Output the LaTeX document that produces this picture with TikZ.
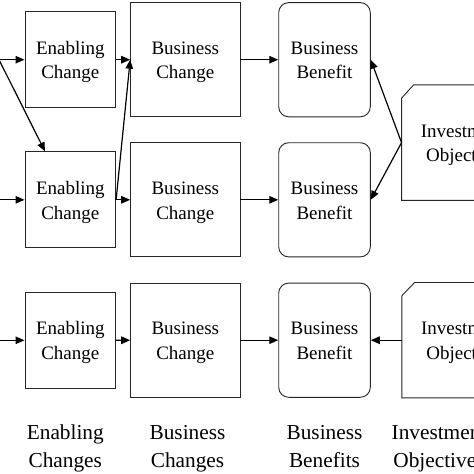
\documentclass[tikz,border=0pt]{standalone}
\usepackage{fontspec}
\setmainfont{Liberation Serif}
\usetikzlibrary{arrows.meta,calc}
\newcommand\twoln[2]{\rule{0pt}{18pt}#1\\#2\rule[-4.2pt]{0pt}{0pt}}
\newcommand\lbltxt[2]{\rule{0pt}{15pt}#1\\#2\rule[-5pt]{0pt}{0pt}}
\begin{document}
\begin{tikzpicture}[x=1pt,y=-1pt,
 box/.style={draw=black!85, line width=0.9pt, inner sep=0pt, align=center, font=\fontsize{19}{24.7}\selectfont, text=black},
 enab/.style={box, minimum width=90.7pt, minimum height=96pt},
 bchg/.style={box, minimum width=109.3pt, minimum height=114.2pt},
 bben/.style={box, rounded corners=10pt, minimum width=91.6pt, minimum height=114.2pt},
 inv/.style={box, draw=none, minimum width=122pt, minimum height=114.5pt},
 chamf/.style={draw=black!85, line width=0.9pt},
 arr/.style={line width=1.2pt, draw=black, -{Triangle[length=9pt,width=7.5pt]}},
 lbl/.style={align=center, inner sep=0pt, text=black, font=\fontsize{21.3}{27.3}\selectfont}]
\useasboundingbox (0,0) rectangle (474,474);
\fill[white] (0,0) rectangle (474,474);
\clip (0,0) rectangle (474,474);

% row 1
\node[enab] (E1) at (70.3,59.7) {\twoln{Enabling}{Change}};
\node[bchg] (B1) at (185.3,59.7) {\twoln{Business}{Change}};
\node[bben] (F1) at (324.5,59.7) {\twoln{Business}{Benefit}};
% row 2
\node[enab] (E2) at (70.3,199.8) {\twoln{Enabling}{Change}};
\node[bchg] (B2) at (185.3,199.8) {\twoln{Business}{Change}};
\node[bben] (F2) at (324.5,199.8) {\twoln{Business}{Benefit}};
\node[inv] (I1) at (463,142.6) {\twoln{Investment}{Objective}};
\draw[chamf] ([xshift=12pt]I1.north west) -- (I1.north east) -- (I1.south east) -- (I1.south west) -- ([yshift=-13.3pt]I1.north west) -- cycle;
% row 3
\node[enab] (E3) at (70.3,340.3) {\twoln{Enabling}{Change}};
\node[bchg] (B3) at (185.3,340.2) {\twoln{Business}{Change}};
\node[bben] (F3) at (324.5,340.2) {\twoln{Business}{Benefit}};
\node[inv] (I3) at (463.3,340.2) {\twoln{Investment}{Objective}};
\draw[chamf] ([xshift=12.7pt]I3.north west) -- (I3.north east) -- (I3.south east) -- (I3.south west) -- ([yshift=-13.3pt]I3.north west) -- cycle;

% free ends
\coordinate (s1) at (-1,59.7);
\coordinate (s2) at (-1,199.8);
\coordinate (s3) at (-1,340.3);

% connectors
\draw[arr] (s1) -- (E1.west);
\draw[arr] (s1) -- ([xshift=-25.3pt]E2.north);
\draw[arr] (s2) -- (E2.west);
\draw[arr] (E1.east) -- (B1.west);
\draw[arr] (E2.east) -- (B1.west);
\draw[arr] (E2.east) -- (B2.west);
\draw[arr] (B1.east) -- (F1.west);
\draw[arr] (B2.east) -- (F2.west);
\draw[arr] (I1.west) -- (F1.east);
\draw[arr] (I1.west) -- (F2.east);
\draw[arr] (s3) -- (E3.west);
\draw[arr] (E3.east) -- (B3.west);
\draw[arr] (B3.east) -- (F3.west);
\draw[arr] (I3.west) -- (F3.east);

% column labels
\node[lbl] (L1) at (65.3,448.4) {\lbltxt{Enabling}{Changes}};
\node[lbl] (L2) at (187.5,448.4) {\lbltxt{Business}{Changes}};
\node[lbl] (L3) at (324.5,448.4) {\lbltxt{Business}{Benefits}};
\node[lbl] (L4) at (439,448.4) {\lbltxt{Investment}{Objectives}};
\end{tikzpicture}
\end{document}
